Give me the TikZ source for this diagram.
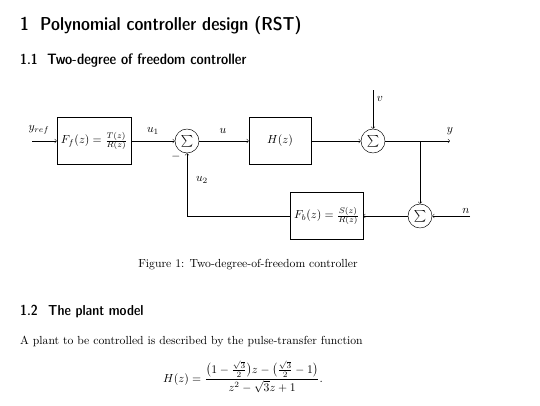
\documentclass[tikz,border=0pt]{standalone}
\usepackage{amsmath}
\begin{document}
\begin{tikzpicture}[x=0.855pt,y=-0.855pt,
  block/.style={draw,minimum width=53pt,minimum height=40.2pt},
  sumnode/.style={draw,circle,inner sep=0pt,minimum size=20.5pt},
  sectitle/.style={anchor=base west,inner xsep=0pt,font=\sffamily\fontseries{sbc}\fontsize{16}{19}\selectfont},
  subtitle/.style={anchor=base west,inner xsep=0pt,font=\sffamily\fontseries{sbc}\fontsize{12.4}{15}\selectfont}]
  \useasboundingbox (0,0) rectangle (540,405);
  % headings
  \node[sectitle] (num1) at (20,30) {1};
  \node[sectitle] (sec1) at (40,30) {Polynomial controller design (RST)};
  \node[subtitle] (num11) at (20,64) {1.1};
  \node[subtitle,font=\sffamily\fontseries{sbc}\fontsize{12.9}{15}\selectfont] (sec11) at (47,64) {Two-degree of freedom controller};
  % blocks
  \node[block,minimum width=63.3pt] (Ff) at (94,141) {$F_f(z)=\frac{T(z)}{R(z)}$};
  \node[sumnode] (S1) at (187,141) {$\sum$};
  \node[block] (H) at (280,141) {$H(z)$};
  \node[sumnode] (S2) at (373,141) {$\sum$};
  \node[sumnode] (S3) at (420,216) {$\sum$};
  \node[block,minimum width=62.4pt] (Fb) at (326.5,216) {$F_b(z)=\frac{S(z)}{R(z)}$};
  \coordinate (yref) at (32,141);
  \coordinate (v) at (373,90);
  \coordinate (yout) at (450,141);
  \coordinate (nin) at (470,216);
  \coordinate (br) at (S3 |- S2);
  \coordinate (corner) at (S1 |- Fb);
  % signals
  \draw[->] (yref) -- (Ff.west);
  \draw[->] (Ff) -- (S1);
  \draw[->] (S1) -- (H);
  \draw[->] (H) -- (S2);
  \draw[->] (v) -- (S2);
  \draw[->] (S2) -- (yout);
  \draw[->] (br) -- (S3);
  \draw[->] (nin) -- (S3);
  \draw[->] (S3) -- (Fb);
  \draw[->] (Fb.west) -- (corner) -- (S1.south);
  % labels
  \node (lyref) at (39,130) {$y_{ref}$};
  \node (lu1) at (153,131) {$u_1$};
  \node (lu) at (223,131) {$u$};
  \node (lminus) at (176,157) {$-$};
  \node (lu2) at (202,180) {$u_2$};
  \node (lv) at (380,99) {$v$};
  \node (ly) at (450,131) {$y$};
  \node (ln) at (466,211) {$n$};
  \node[anchor=base] (cap) at (248,267) {Figure 1: Two-degree-of-freedom controller};
  % plant model
  \node[subtitle] (num12) at (20,315) {1.2};
  \node[subtitle] (sec12) at (48,315) {The plant model};
  \node[anchor=base west,inner xsep=0pt] (txt) at (20,344) {A plant to be controlled is described by the pulse-transfer function};
  \node[anchor=west,inner sep=0pt] (eq) at (163,377) {$\displaystyle H(z)=\frac{\bigl(1-\frac{\sqrt{3}}{2}\bigr)z-\bigl(\frac{\sqrt{3}}{2}-1\bigr)}{z^2-\sqrt{3}z+1}.$};
\end{tikzpicture}
\end{document}
